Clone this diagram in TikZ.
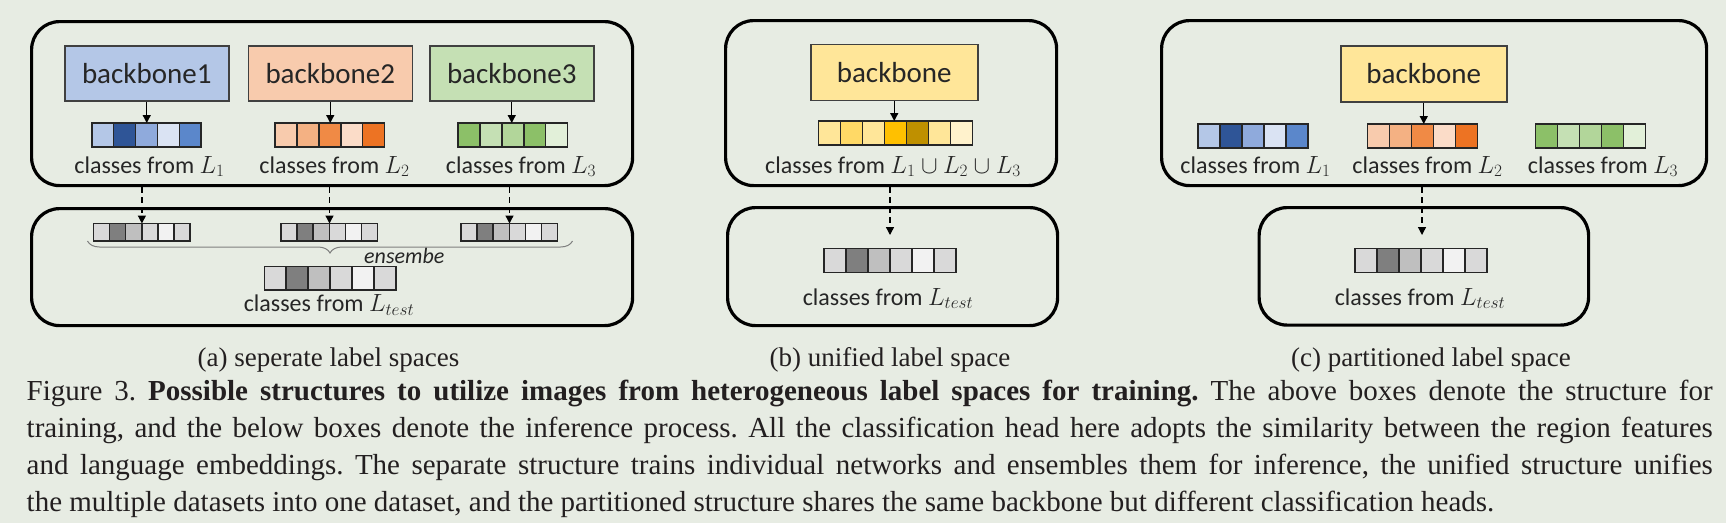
\documentclass[tikz,border=0pt]{standalone}
\usepackage{fontspec}
\setmainfont{Liberation Serif}
\newfontfamily\carl{Carlito}
\usetikzlibrary{arrows.meta,decorations.pathreplacing}
\definecolor{bg}{HTML}{E7ECE3}
\definecolor{txt}{HTML}{262626}
\definecolor{captxt}{HTML}{231F20}
\definecolor{bbline}{HTML}{404040}
\definecolor{cellc}{HTML}{262626}
\definecolor{bl1}{HTML}{B4C7E7}
\definecolor{bl2}{HTML}{2F5597}
\definecolor{bl3}{HTML}{8FAADC}
\definecolor{bl4}{HTML}{DAE3F3}
\definecolor{bl5}{HTML}{5B87CB}
\definecolor{or1}{HTML}{F8CBAD}
\definecolor{or2}{HTML}{F4B183}
\definecolor{or3}{HTML}{F08A45}
\definecolor{or4}{HTML}{FBDCC8}
\definecolor{or5}{HTML}{ED7323}
\definecolor{gn1}{HTML}{8CC068}
\definecolor{gn2}{HTML}{C5E0B4}
\definecolor{gn3}{HTML}{B2D69A}
\definecolor{gn4}{HTML}{E2F0D9}
\definecolor{ye1}{HTML}{FFE699}
\definecolor{ye2}{HTML}{FFD966}
\definecolor{ye3}{HTML}{FFC000}
\definecolor{ye4}{HTML}{BF9000}
\definecolor{ye5}{HTML}{FFF2CC}
\definecolor{gr1}{HTML}{D9D9D9}
\definecolor{gr2}{HTML}{7F7F7F}
\definecolor{gr3}{HTML}{BFBFBF}
\definecolor{gr4}{HTML}{F2F2F2}
\newcommand\cellrow[7]{% name, x, y, cell w, cell h, count, colours
  \foreach \c [count=\i from 0] in {#7}{\fill[\c] ({#2+\i*#4},{#3}) rectangle ++(#4,#5);}
  \foreach \c [count=\i from 0] in {#7}{\draw[cellline] ({#2+\i*#4},{#3}) rectangle ++(#4,#5);}
  \node[inner sep=0, minimum width={#6*#4*1pt}, minimum height={#5*1pt}, anchor=north west] (#1) at (#2,#3) {};
}
\tikzset{
  panel/.style={draw=black, line width=3.2pt, rounded corners=28pt, inner sep=0, anchor=north west},
  bbox/.style={draw=bbline, line width=1.5pt, inner sep=0, anchor=north west,
    font=\carl\fontsize{29}{34}\selectfont, text=txt},
  cellline/.style={draw=cellc, line width=1.6pt},
  arr/.style={-{Triangle[width=8pt,length=8pt]}, line width=1.3pt, draw=black},
  darr/.style={arr, dash pattern=on 6pt off 4pt},
  lbl/.style={font=\carl\fontsize{24}{28}\selectfont, text=txt, inner sep=0, anchor=base},
  subcap/.style={font=\fontsize{27}{32}\selectfont, text=captxt, inner sep=0, anchor=base},
  capline/.style={font=\frenchspacing\fontsize{29}{34}\selectfont, text=captxt, inner sep=0, anchor=base west},
  bracestyle/.style={draw=gr2, line width=1pt, decorate,
    decoration={brace, mirror, amplitude=12pt, aspect=0.5}},
}
\begin{document}
\begin{tikzpicture}[x=1pt,y=-1pt]
\fill[bg] (0,0) rectangle (1726,523);
\useasboundingbox (0,0) rectangle (1726,523);

% ---------------- (a) separate label spaces
\node[panel, minimum width=601pt, minimum height=164pt] (topA) at (30,20) {};
\node[bbox, fill=bl1, minimum width=164pt, minimum height=55pt] (bb1) at (64,45) {backbone1};
\node[bbox, fill=or1, minimum width=164pt, minimum height=55pt] (bb2) at (247.5,45) {backbone2};
\node[bbox, fill=gn2, minimum width=164pt, minimum height=55pt] (bb3) at (429,45) {backbone3};
\cellrow{v1}{91.7}{123}{21.9}{24}{5}{bl1,bl2,bl3,bl4,bl5}
\cellrow{v2}{275}{123}{21.9}{24}{5}{or1,or2,or3,or4,or5}
\cellrow{v3}{458}{123}{21.9}{24}{5}{gn1,gn2,gn3,gn1,gn4}
\draw[arr] (bb1.south) -- (bb1.south |- v1.north);
\draw[arr] (bb2.south) -- (bb2.south |- v2.north);
\draw[arr] (bb3.south) -- (bb3.south |- v3.north);
\node[lbl] (l1) at (149.5,173) {classes from $L_1$};
\node[lbl] (l2) at (334.5,173) {classes from $L_2$};
\node[lbl] (l3) at (521,173) {classes from $L_3$};

\node[panel, minimum width=601pt, minimum height=117pt] (botA) at (30,207) {};
\cellrow{va1}{93.4}{223.5}{16.1}{17.7}{6}{gr1,gr2,gr3,gr1,gr4,gr1}
\cellrow{va2}{281}{223.5}{16.1}{17.7}{6}{gr1,gr2,gr3,gr1,gr4,gr1}
\cellrow{va3}{461}{223.5}{16.1}{17.7}{6}{gr1,gr2,gr3,gr1,gr4,gr1}
\draw[darr] (va1.north |- topA.south) -- (va1.north);
\draw[darr] (va2.north |- topA.south) -- (va2.north);
\draw[darr] (va3.north |- topA.south) -- (va3.north);
\coordinate (braceL) at (87.5,241);
\coordinate (braceR) at (572.5,241);
\draw[bracestyle] (braceL) -- (braceR);
\node[font=\carl\itshape\fontsize{22}{26}\selectfont, text=txt, inner sep=0, anchor=base west] (ens) at (364,263) {ensembe};
\cellrow{vat}{264.3}{266.5}{21.9}{23.5}{6}{gr1,gr2,gr3,gr1,gr4,gr1}
\node[lbl] (lat) at (329,311.5) {classes from $L_{test}$};

% ---------------- (b) unified label space
\node[panel, minimum width=331pt, minimum height=165pt] (topB) at (724,19) {};
\node[bbox, fill=ye1, minimum width=167pt, minimum height=56pt] (bbB) at (810,43.5) {backbone};
\cellrow{vB}{818.3}{121}{22}{24}{7}{ye1,ye2,ye1,ye3,ye4,ye1,ye5}
\draw[arr] (bbB.south) -- (bbB.south |- vB.north);
\node[lbl] (lB) at (893,173) {classes from $L_1\cup L_2\cup L_3$};
\node[panel, minimum width=330pt, minimum height=118pt] (botB) at (726,206) {};
\coordinate (tipB) at (890,235);
\draw[darr] (tipB |- topB.south) -- (tipB);
\cellrow{vBt}{824}{248.5}{22}{24}{6}{gr1,gr2,gr3,gr1,gr4,gr1}
\node[lbl] (lBt) at (888,305) {classes from $L_{test}$};

% ---------------- (c) partitioned label space
\node[panel, minimum width=545pt, minimum height=165pt] (topC) at (1160,19) {};
\node[bbox, fill=ye1, minimum width=166pt, minimum height=56pt] (bbC) at (1340,45) {backbone};
\cellrow{c1}{1198}{124}{22}{24}{5}{bl1,bl2,bl3,bl4,bl5}
\cellrow{c2}{1367.6}{124}{22}{24}{5}{or1,or2,or3,or4,or5}
\cellrow{c3}{1535.4}{124}{22}{24}{5}{gn1,gn2,gn3,gn1,gn4}
\draw[arr] (bbC.south) -- (bbC.south |- c2.north);
\node[lbl] (lc1) at (1255.5,173) {classes from $L_1$};
\node[lbl] (lc2) at (1427.5,173) {classes from $L_2$};
\node[lbl] (lc3) at (1603,173) {classes from $L_3$};
\node[panel, minimum width=329.5pt, minimum height=117.5pt] (botC) at (1257.5,206) {};
\coordinate (tipC) at (1422,235);
\draw[darr] (tipC |- topC.south) -- (tipC);
\cellrow{vCt}{1355}{248.5}{22}{24}{6}{gr1,gr2,gr3,gr1,gr4,gr1}
\node[lbl] (lCt) at (1420,305) {classes from $L_{test}$};

% ---------------- captions
\node[subcap] (sa) at (328.5,366) {(a) seperate label spaces};
\node[subcap] (sb) at (890,366) {(b) unified label space};
\node[subcap] (sc) at (1431,366) {(c) partitioned label space};
\node[capline] (cap1) at (26.5,400) {\hbox to 1686pt{Figure 3. \textbf{Possible structures to utilize images from heterogeneous label spaces for training.} The above boxes denote the structure for}};
\node[capline] (cap2) at (26.5,437) {\hbox to 1686pt{training, and the below boxes denote the inference process. All the classification head here adopts the similarity between the region features}};
\node[capline] (cap3) at (26.5,474) {\hbox to 1686pt{and language embeddings. The separate structure trains individual networks and ensembles them for inference, the unified structure unifies}};
\node[capline] (cap4) at (26.5,511) {the multiple datasets into one dataset, and the partitioned structure shares the same backbone but different classification heads.};
\end{tikzpicture}
\end{document}
